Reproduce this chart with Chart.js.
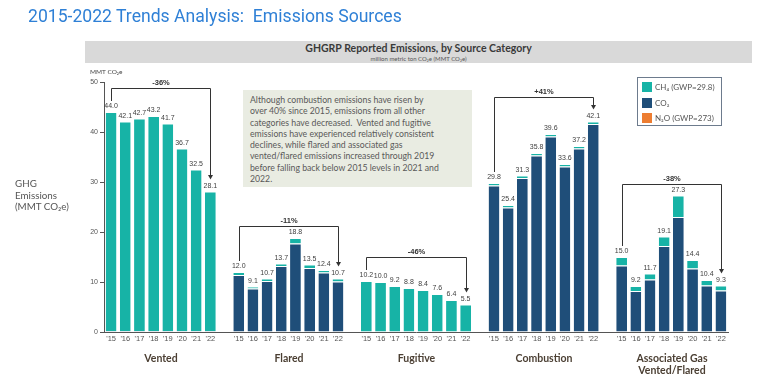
<!DOCTYPE html>
<html>
<head>
<meta charset="utf-8">
<script src="https://cdn.jsdelivr.net/npm/chart.js@4.4.0/dist/chart.umd.min.js"></script>
<style>
  html, body { margin: 0; padding: 0; background: #fff; }
  #wrap { position: relative; width: 768px; height: 385px; overflow: hidden; }
  #myChart { position: absolute; left: 0; top: 0; }
  .pageTitle { position: absolute; left: 28px; top: 6px; font: 17.6px Roboto, sans-serif; color: #2f80d6; white-space: nowrap; }
  .banner { position: absolute; left: 85px; top: 41px; width: 667px; height: 22px; background: #d9d9d9; text-align: center; font-family: Lato, sans-serif; color: #3a3a3a; }
  .banner .main { font-weight: bold; font-size: 10.5px; line-height: 13px; padding-top: 1px; }
  .banner .sub { font-size: 6px; line-height: 7px; color: #555; }
  .note { position: absolute; left: 243px; top: 90px; width: 222px; height: 93px; padding: 4px 0 0 7px; background: #e9ece2; font: 8.7px/11.3px Lato, sans-serif; color: #595959; white-space: nowrap; }
  .yTitle { position: absolute; left: 15px; top: 178px; font: 9.8px/11.6px Lato, sans-serif; color: #555; }
  .unit { position: absolute; left: 90px; top: 68px; font: 6.5px Lato, sans-serif; color: #444; }
  .legend { position: absolute; left: 637px; top: 77px; width: 83px; height: 47px; border: 1px solid #6d7b8d; font: 8px Lato, sans-serif; color: #555; }
  .legend div { position: absolute; left: 4px; height: 10px; line-height: 10px; white-space: nowrap; }
  .legend span { display: inline-block; width: 10px; height: 10px; vertical-align: top; margin-right: 3px; }
</style>
</head>
<body>
<div id="wrap">
  <canvas id="myChart" width="768" height="385"></canvas>
  <div class="pageTitle">2015-2022 Trends Analysis:&nbsp; Emissions Sources</div>
  <div class="banner">
    <div class="main">GHGRP Reported Emissions, by Source Category</div>
    <div class="sub">million metric ton CO₂e (MMT CO₂e)</div>
  </div>
  <div class="unit">MMT CO₂e</div>
  <div class="yTitle">GHG<br>Emissions<br>(MMT CO₂e)</div>
  <div class="note">
    Although combustion emissions have risen by<br>
    over 40% since 2015, emissions from all other<br>
    categories have decreased.&nbsp; Vented and fugitive<br>
    emissions have experienced relatively consistent<br>
    declines, while flared and associated gas<br>
    vented/flared emissions increased through 2019<br>
    before falling back below 2015 levels in 2021 and<br>
    2022.
  </div>
  <div class="legend">
    <div style="top:4px"><span style="background:#17b3a6"></span>CH₄ (GWP=29.8)</div>
    <div style="top:20px"><span style="background:#1f4e79"></span>CO₂</div>
    <div style="top:35px"><span style="background:#ed7d31"></span>N₂O (GWP=273)</div>
  </div>
</div>

<script>
const years = ["'15", "'16", "'17", "'18", "'19", "'20", "'21", "'22"];
const groupNames = ['Vented', 'Flared', 'Fugitive', 'Combustion', ['Associated Gas', 'Vented/Flared']];

// per source category, 2015..2022
const co2Values = [
  [0.2, 0.2, 0.2, 0.2, 0.2, 0.2, 0.2, 0.2],
  [11.4, 8.7, 10.2, 13.2, 17.7, 12.8, 11.9, 10.1],
  [0, 0, 0, 0, 0, 0, 0, 0],
  [29.3, 24.9, 30.8, 35.3, 39.1, 33.1, 36.7, 41.6],
  [13.3, 8.2, 10.5, 17.2, 23.0, 12.7, 9.3, 8.3]
];
const ch4Values = [
  [43.8, 41.9, 42.5, 43.0, 41.5, 36.5, 32.3, 27.9],
  [0.6, 0.4, 0.5, 0.5, 1.1, 0.7, 0.5, 0.6],
  [10.2, 10.0, 9.2, 8.8, 8.4, 7.6, 6.4, 5.5],
  [0.5, 0.5, 0.5, 0.5, 0.5, 0.5, 0.5, 0.5],
  [1.7, 1.0, 1.2, 1.9, 4.3, 1.7, 1.1, 1.0]
];
const n2oValues = [
  [0, 0, 0, 0, 0, 0, 0, 0],
  [0, 0, 0, 0, 0, 0, 0, 0],
  [0, 0, 0, 0, 0, 0, 0, 0],
  [0, 0, 0, 0, 0, 0, 0, 0],
  [0, 0, 0, 0, 0, 0, 0, 0]
];

const yTicks = [0, 10, 20, 30, 40, 50];

// flatten groups into one category axis, with an empty slot between groups
const labels = [];
const co2 = [], ch4 = [], n2o = [], groupStart = [];
groupNames.forEach((g, gi) => {
  if (gi > 0) {
    labels.push('');
    co2.push(null); ch4.push(null); n2o.push(null);
  }
  groupStart.push(labels.length);
  years.forEach((y, i) => {
    labels.push(y);
    co2.push(co2Values[gi][i]);
    ch4.push(ch4Values[gi][i]);
    n2o.push(n2oValues[gi][i]);
  });
});

const totals = labels.map((l, i) => l === '' ? null : co2[i] + ch4[i] + n2o[i]);

const barStyle = {
  borderColor: '#ffffff',
  borderWidth: { top: 1, left: 0, right: 0, bottom: 0 },
  borderSkipped: false,
  barPercentage: 0.76,
  categoryPercentage: 1
};

const annotations = {
  id: 'annotations',
  afterDatasetsDraw(chart) {
    const ctx = chart.ctx;
    const x = chart.scales.x, y = chart.scales.y;
    ctx.save();

    // value labels
    ctx.fillStyle = '#404040';
    ctx.font = '7px "Liberation Sans", Arial, sans-serif';
    ctx.textAlign = 'center';
    ctx.textBaseline = 'bottom';
    totals.forEach((t, i) => {
      if (t === null) return;
      ctx.fillText(t.toFixed(1), x.getPixelForValue(i), y.getPixelForValue(t) - 2);
    });

    // change brackets
    ctx.strokeStyle = '#333';
    ctx.fillStyle = '#333';
    ctx.lineWidth = 1;
    groupStart.forEach((s, gi) => {
      const e = s + years.length - 1;
      const tops = [];
      for (let i = s; i <= e; i++) tops.push(y.getPixelForValue(totals[i]));
      const mid = tops.slice(1, -1);
      const h = Math.round(Math.min(Math.min(tops[0], tops[tops.length - 1]) - 24, Math.min(...mid) - 12)) + 0.5;
      const x0 = Math.round(x.getPixelForValue(s)) + 0.5;
      const x1 = Math.round(x.getPixelForValue(e)) + 0.5;
      const leftEnd = tops[0] - 11;
      const tip = tops[tops.length - 1] - 12;
      ctx.beginPath();
      ctx.moveTo(x0, leftEnd);
      ctx.lineTo(x0, h);
      ctx.lineTo(x1, h);
      ctx.lineTo(x1, tip - 4);
      ctx.stroke();
      ctx.beginPath();
      ctx.moveTo(x1 - 2.5, tip - 4.5);
      ctx.lineTo(x1 + 2.5, tip - 4.5);
      ctx.lineTo(x1, tip);
      ctx.closePath();
      ctx.fill();

      const pct = Math.round((totals[e] - totals[s]) / totals[s] * 100);
      ctx.font = 'bold 7.5px "Liberation Sans", Arial, sans-serif';
      ctx.textBaseline = 'bottom';
      ctx.fillText((pct > 0 ? '+' : '') + pct + '%', (x0 + x1) / 2, h - 2);

      // category name
      ctx.fillStyle = '#4b3f33';
      ctx.font = 'bold 10.5px Lato, sans-serif';
      ctx.textBaseline = 'middle';
      const name = [].concat(groupNames[gi]);
      name.forEach((line, li) => ctx.fillText(line, (x0 + x1) / 2, 359 + li * 12));
      ctx.fillStyle = '#333';
    });
    ctx.restore();
  }
};

new Chart(document.getElementById('myChart'), {
  type: 'bar',
  data: {
    labels: labels,
    datasets: [
      Object.assign({ label: 'CO₂', data: co2, backgroundColor: '#1f4e79' }, barStyle),
      Object.assign({ label: 'CH₄ (GWP=29.8)', data: ch4, backgroundColor: '#17b3a6' }, barStyle),
      Object.assign({ label: 'N₂O (GWP=273)', data: n2o, backgroundColor: '#ed7d31' }, barStyle)
    ]
  },
  options: {
    responsive: false,
    animation: false,
    layout: { padding: { left: 74, right: 40, top: 82, bottom: 0 } },
    plugins: {
      legend: { display: false },
      tooltip: { enabled: false }
    },
    scales: {
      x: {
        stacked: true,
        afterFit(scale) { scale.height = 53; },
        grid: { display: false, drawTicks: false },
        border: { display: true, color: '#555', width: 1 },
        ticks: {
          autoSkip: false, maxRotation: 0, padding: 2,
          color: '#555', font: { family: '"Liberation Sans", Arial, sans-serif', size: 7.5 }
        }
      },
      y: {
        stacked: true,
        min: 0, max: 50,
        afterFit(scale) { scale.width = 30; },
        afterBuildTicks(scale) { scale.ticks = yTicks.map(v => ({ value: v })); },
        grid: { drawOnChartArea: false, drawTicks: true, tickLength: 4, color: '#555' },
        border: { display: true, color: '#555', width: 1 },
        ticks: {
          padding: 2, color: '#555',
          font: { family: '"Liberation Sans", Arial, sans-serif', size: 7 }
        }
      }
    }
  },
  plugins: [annotations]
});
</script>
</body>
</html>
